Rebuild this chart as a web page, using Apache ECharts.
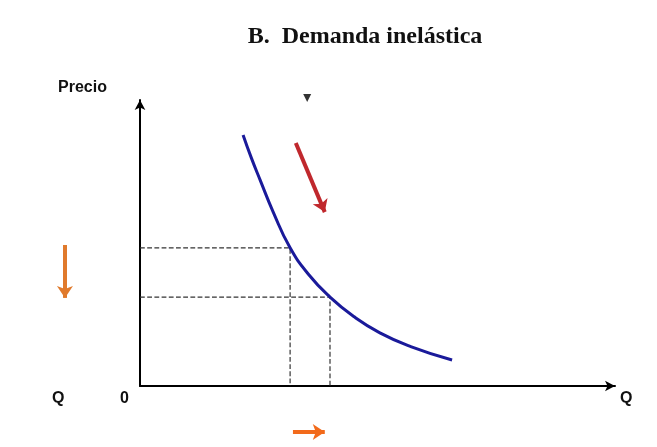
<!DOCTYPE html><html><head><meta charset="utf-8"><script src="https://cdn.jsdelivr.net/npm/echarts@6/dist/echarts.min.js"></script>
<style>body{margin:0;background:#fff}#c{width:657px;height:447px}</style></head><body><div id="c"></div><script>
const demandCurve=[[21.7,87.8],[23.5,79.5],[25.3,72],[28,61],[31.6,48.3],[35.5,39],[40,31.1],[45,24.3],[50.5,18.6],[57,13.8],[65.7,9.1]];
const pointA=[31.6,48.3], pointB=[40,31.1];
const priceLabels=['P°','P*'];
const qtyLabels=['Q°','Q*'];
const redArrow=[[32.8,85],[38.9,60.8]];
const priceArrow=[[-15.8,49.3],[-15.8,30.8]];
const qtyArrow=[[32.2,-16.1],[38.9,-16.1]];
const dash={type:'dashed',color:'#333',width:1.2};
function dashed(p){return {type:'line',data:[[0,p[1]],p,[p[0],0]],symbol:'none',lineStyle:dash,z:1};}
const lbl={fontSize:15,fontWeight:'bold',color:'#111',fontFamily:'Liberation Sans'};
const chart=echarts.init(document.getElementById('c'));
chart.setOption({animation:false,
title:{text:'B.  Demanda inelástica',left:360,top:20,textAlign:'center',textStyle:{fontFamily:'Liberation Serif',fontWeight:'bold',fontSize:24,color:'#111'}},
grid:{left:140,right:42,top:100,bottom:61},
xAxis:{type:'value',min:0,max:100,axisLine:{lineStyle:{color:'#000',width:2},symbol:['none','arrow'],symbolSize:[8,10]},axisTick:{show:false},axisLabel:{show:false},splitLine:{show:false}},
yAxis:{type:'value',min:0,max:100,axisLine:{show:true,lineStyle:{color:'#000',width:2},symbol:['none','arrow'],symbolSize:[8,10]},axisTick:{show:false},axisLabel:{show:false},splitLine:{show:false}},
series:[dashed(pointA),dashed(pointB),
{type:'line',data:demandCurve,smooth:0.5,symbol:'none',lineStyle:{color:'#1a1a9a',width:3},z:3},
{type:'lines',coordinateSystem:'cartesian2d',clip:false,symbol:['none','arrow'],symbolSize:12,
data:[{coords:redArrow,lineStyle:{color:'#c0282d',width:4,opacity:1}},{coords:priceArrow,lineStyle:{color:'#e07a2c',width:4,opacity:1}},{coords:qtyArrow,lineStyle:{color:'#f26a1b',width:4,opacity:1}}]},
{type:'scatter',clip:false,data:[[35.2,100.7]],symbol:'triangle',symbolRotate:180,symbolSize:8,itemStyle:{color:'#000'}},
{type:'scatter',clip:false,symbolSize:1,itemStyle:{opacity:0},data:[[0,pointA[1]],[0,pointB[1]]].map((d,i)=>({value:d,label:Object.assign({show:true,formatter:priceLabels[i],position:'left',distance:12},lbl)}))},
{type:'scatter',clip:false,symbolSize:1,itemStyle:{opacity:0},data:[[pointA[0],0],[pointB[0],0]].map((d,i)=>({value:d,label:Object.assign({show:true,formatter:qtyLabels[i],position:'bottom',distance:16},lbl)}))}
],
graphic:[
{type:'text',left:58,top:80,style:{text:'Precio',font:'bold 16px Liberation Sans',fill:'#111'}},
{type:'text',left:52,top:391,style:{text:'Q',font:'bold 16px Liberation Sans',fill:'#111'}},
{type:'text',left:120,top:391,style:{text:'0',font:'bold 16px Liberation Sans',fill:'#111'}},
{type:'text',left:620,top:391,style:{text:'Q',font:'bold 16px Liberation Sans',fill:'#111'}}
]});
</script></body></html>
